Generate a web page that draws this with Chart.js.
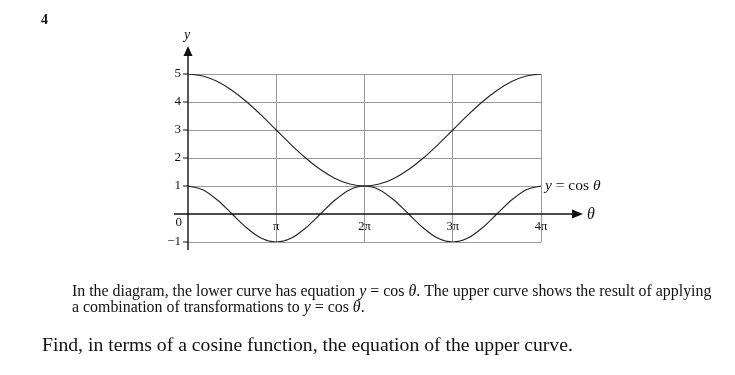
<!DOCTYPE html>
<html>
<head>
<meta charset="utf-8">
<script src="https://cdn.jsdelivr.net/npm/chart.js@4.4.0/dist/chart.umd.min.js"></script>
<style>
  body { margin: 0; background: #fff; }
  #wrap { position: relative; width: 735px; height: 375px; font-family: "Liberation Serif", "DejaVu Serif", serif; color: #111; }
  #grafico { position: absolute; left: 0; top: 0; }
  .num { position: absolute; left: 41px; top: 12px; font-weight: bold; font-size: 14px; }
  .texto { position: absolute; left: 72px; top: 283px; font-size: 15.9px; line-height: 16px; white-space: nowrap; }
  .pregunta { position: absolute; left: 42px; top: 333px; font-size: 19.7px; white-space: nowrap; }
</style>
</head>
<body>
<div id="wrap">
  <canvas id="grafico" width="735" height="375"></canvas>
  <div class="num">4</div>
  <div class="texto">In the diagram, the lower curve has equation <i>y</i> = cos <i>θ</i>. The upper curve shows the result of applying<br>a combination of transformations to <i>y</i> = cos <i>θ</i>.</div>
  <div class="pregunta">Find, in terms of a cosine function, the equation of the upper curve.</div>
</div>
<script>
// theta en multiplos de pi (paso pi/6)
const theta = [0, 0.167, 0.333, 0.5, 0.667, 0.833, 1, 1.167, 1.333, 1.5, 1.667, 1.833, 2,
               2.167, 2.333, 2.5, 2.667, 2.833, 3, 3.167, 3.333, 3.5, 3.667, 3.833, 4];
// curva inferior y = cos θ
const lowerCurve = [1, 0.87, 0.5, 0, -0.5, -0.87, -1, -0.87, -0.5, 0, 0.5, 0.87, 1,
                    0.87, 0.5, 0, -0.5, -0.87, -1, -0.87, -0.5, 0, 0.5, 0.87, 1];
// curva superior
const upperCurve = [5, 4.93, 4.73, 4.41, 4, 3.52, 3, 2.48, 2, 1.59, 1.27, 1.07, 1,
                    1.07, 1.27, 1.59, 2, 2.48, 3, 3.52, 4, 4.41, 4.73, 4.93, 5];
const xTicks = [1, 2, 3, 4];
const xTickLabels = ['π', '2π', '3π', '4π'];
const yTicks = [-1, 1, 2, 3, 4, 5];

const toPoints = ys => ys.map((y, i) => ({ x: theta[i], y: y }));

// ejes con flechas y etiquetas
const ejes = {
  id: 'ejes',
  afterDraw(chart) {
    const c = chart.ctx;
    const xs = chart.scales.x, ys = chart.scales.y;
    const x0 = xs.getPixelForValue(0), y0 = ys.getPixelForValue(0);
    const serif = '"Liberation Serif", serif';
    c.save();
    c.strokeStyle = '#111';
    c.fillStyle = '#111';
    c.lineWidth = 1.4;
    // eje y
    c.beginPath();
    c.moveTo(x0, ys.getPixelForValue(-1) + 8);
    c.lineTo(x0, 54);
    c.stroke();
    c.beginPath();
    c.moveTo(x0, 46); c.lineTo(x0 - 4.5, 56); c.lineTo(x0 + 4.5, 56); c.closePath(); c.fill();
    // eje x
    c.beginPath();
    c.moveTo(x0 - 14, y0);
    c.lineTo(574, y0);
    c.stroke();
    c.beginPath();
    c.moveTo(583, y0); c.lineTo(572, y0 - 4.5); c.lineTo(572, y0 + 4.5); c.closePath(); c.fill();
    // marcas del eje y
    c.lineWidth = 1;
    yTicks.forEach(v => {
      const p = ys.getPixelForValue(v);
      c.beginPath(); c.moveTo(x0 - 5, p); c.lineTo(x0, p); c.stroke();
    });
    // etiquetas
    c.font = '13px ' + serif;
    c.textAlign = 'right';
    c.textBaseline = 'middle';
    yTicks.forEach(v => {
      c.fillText(v < 0 ? '\u2212' + Math.abs(v) : String(v), x0 - 7, ys.getPixelForValue(v));
    });
    c.fillText('0', x0 - 6, y0 + 9);
    c.textAlign = 'center';
    c.font = '12.5px ' + serif;
    xTicks.forEach((v, i) => {
      c.fillText(xTickLabels[i], xs.getPixelForValue(v), y0 + 13);
    });
    c.font = 'italic 14px ' + serif;
    c.fillText('y', x0 - 1, 35);
    c.textAlign = 'left';
    c.font = 'italic 16px ' + serif;
    c.fillText('θ', 587, y0 + 1);
    // rotulo de la curva
    const lx = xs.getPixelForValue(4) + 4, ly = ys.getPixelForValue(1);
    c.font = 'italic 15.5px ' + serif;
    c.fillText('y', lx, ly);
    let w = c.measureText('y').width;
    c.font = '15.5px ' + serif;
    c.fillText(' = cos ', lx + w, ly);
    w += c.measureText(' = cos ').width;
    c.font = 'italic 15.5px ' + serif;
    c.fillText('θ', lx + w, ly);
    c.restore();
  }
};

new Chart(document.getElementById('grafico'), {
  type: 'line',
  data: {
    datasets: [{
      label: 'superior',
      data: toPoints(upperCurve),
      borderColor: '#222',
      borderWidth: 1.1,
      pointRadius: 0,
      cubicInterpolationMode: 'monotone'
    }, {
      label: 'y = cos θ',
      data: toPoints(lowerCurve),
      borderColor: '#222',
      borderWidth: 1.1,
      pointRadius: 0,
      cubicInterpolationMode: 'monotone'
    }]
  },
  options: {
    responsive: false,
    animation: false,
    layout: { padding: { left: 188, right: 194, top: 74, bottom: 133 } },
    scales: {
      x: {
        type: 'linear', min: 0, max: 4,
        afterBuildTicks: s => { s.ticks = xTicks.map(v => ({ value: v })); },
        ticks: { display: false },
        grid: { color: '#999', lineWidth: 1, drawTicks: false },
        border: { display: false }
      },
      y: {
        min: -1, max: 5,
        afterBuildTicks: s => { s.ticks = yTicks.map(v => ({ value: v })); },
        ticks: { display: false },
        grid: { color: '#999', lineWidth: 1, drawTicks: false },
        border: { display: false }
      }
    },
    plugins: { legend: { display: false }, tooltip: { enabled: false } }
  },
  plugins: [ejes]
});
</script>
</body>
</html>
